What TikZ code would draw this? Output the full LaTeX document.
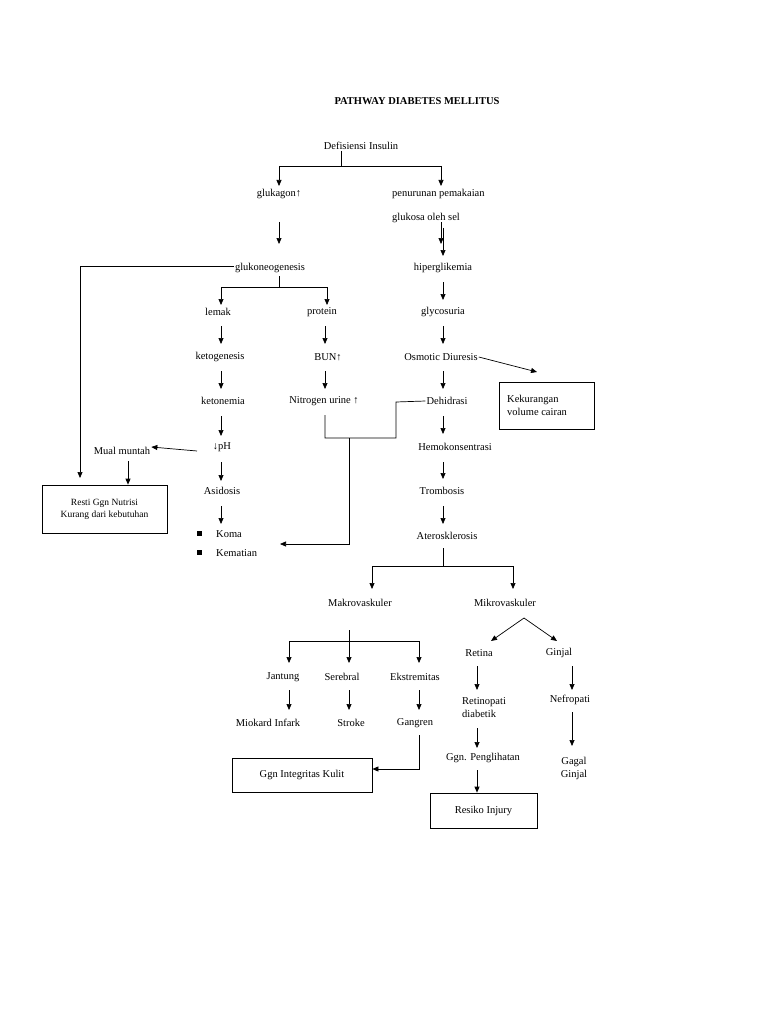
\documentclass[tikz,border=0pt]{standalone}
\usepackage{fontspec}
\setmainfont{Liberation Serif}
\usetikzlibrary{arrows.meta}
\begin{document}
\begin{tikzpicture}[x=1pt,y=-1pt,
  every node/.style={font=\fontsize{10.5}{13}\selectfont,inner sep=1pt},
  ar/.style={-{Triangle[length=6pt,width=5pt]},line width=0.7pt},
  ln/.style={line width=0.7pt},
  bx/.style={draw,line width=0.7pt,minimum width=0pt}]
\useasboundingbox (0,0) rectangle (768,1024);
\node[font=\fontsize{10.5}{13}\selectfont\bfseries] (title) at (417,101) {PATHWAY DIABETES MELLITUS};
\node (def) at (361,146) {Defisiensi Insulin};
\node (glk) at (279,194) {glukagon↑};
\node[anchor=west] (pen) at (391,194) {penurunan pemakaian};
\node[anchor=west] (glo) at (391,218) {glukosa oleh sel};
\node (gng) at (270,268) {glukoneogenesis};
\node (hip) at (443,268) {hiperglikemia};
\node (lem) at (218,312) {lemak};
\node (pro) at (322,312) {protein};
\node (gly) at (443,312) {glycosuria};
\node (ktg) at (220,357) {ketogenesis};
\node (bun) at (328,357) {BUN↑};
\node (osm) at (441,357) {Osmotic Diuresis};
\node (ktn) at (223,401) {ketonemia};
\node (nit) at (324,401) {Nitrogen urine ↑};
\node (deh) at (447,401) {Dehidrasi};
\node (ph) at (222,447) {↓pH};
\node (mual) at (122,451) {Mual muntah};
\node (hem) at (455,447) {Hemokonsentrasi};
\node (asi) at (222,491) {Asidosis};
\node (tro) at (442,491) {Trombosis};
\node[anchor=west] (koma) at (215,534) {Koma};
\node[anchor=west] (kem) at (215,553) {Kematian};
\fill (197,531) rectangle (202,536);
\fill (197,550) rectangle (202,555);
\node (ate) at (447,536) {Aterosklerosis};
\node[bx,minimum width=95pt,minimum height=47pt] (kek) at (546.5,405.5) {};
\node[anchor=west,align=left] (kekt) at (506,405) {Kekurangan\\volume cairan};
\node[bx,minimum width=125pt,minimum height=48pt,align=center,font=\fontsize{9.5}{12}\selectfont] (resti) at (104.5,509) {Resti Ggn Nutrisi\\Kurang dari kebutuhan};
\node (mak) at (360,603) {Makrovaskuler};
\node (mik) at (505,603) {Mikrovaskuler};
\node (jan) at (283,677) {Jantung};
\node (ser) at (342,677) {Serebral};
\node (eks) at (415,677) {Ekstremitas};
\node (mio) at (268,723) {Miokard Infark};
\node (str) at (351,723) {Stroke};
\node (gan) at (415,723) {Gangren};
\node[bx,minimum width=140pt,minimum height=34pt] (ggn) at (302,775) {Ggn Integritas Kulit};
\node (ret) at (479,653) {Retina};
\node (gin) at (559,653) {Ginjal};
\node[anchor=west,align=left] (rtp) at (461,708) {Retinopati\\diabetik};
\node (nef) at (570,700) {Nefropati};
\node (pen2) at (483,758) {Ggn. Penglihatan};
\node[align=center] (gag) at (574,768) {Gagal\\Ginjal};
\node[bx,minimum width=107pt,minimum height=35pt] (inj) at (483.5,810.5) {Resiko Injury};

% top split
\draw[ln] (def.south -| 341,0) -- (341,166);
\draw[ar] (279,166) -- (279,186);
\draw[ln] (279,166) -- (441,166);
\draw[ar] (441,166) -- (441,186);
\draw[ar] (279,222) -- (279,244);
\draw[ar] (441,222) -- (441,244);
% left long line
\draw[ar] (gng.west |- 0,266) -- (80,266) -- (80,478);
% gluconeogenesis split
\draw[ln] (279,276) -- (279,287);
\draw[ln] (221,287) -- (327,287);
\draw[ar] (221,287) -- (221,305);
\draw[ar] (327,287) -- (327,305);
% left column
\draw[ar] (221,326) -- (221,344);
\draw[ar] (221,371) -- (221,389);
\draw[ar] (221,416) -- (221,436);
\draw[ar] (221,462) -- (221,481);
\draw[ar] (221,506) -- (221,524);
\draw[ar] (197,451) -- (ph.west -| mual.east);
\draw[ar] (128,461) -- (resti.north -| 128,0);
% middle column
\draw[ar] (325,326) -- (325,344);
\draw[ar] (325,371) -- (325,389);
\draw[ln] (325,415) -- (325,438) -- (396,438) -- (396,402) -- (deh.west);
\draw[ar] (349,438) -- (349,544) -- (280,544);
% right column
\draw[ar] (443,228) -- (443,256);
\draw[ar] (443,282) -- (443,300);
\draw[ar] (443,326) -- (443,344);
\draw[ar] (osm.east) -- (537,372);
\draw[ar] (443,371) -- (443,389);
\draw[ar] (443,416) -- (443,434);
\draw[ar] (443,462) -- (443,479);
\draw[ar] (443,506) -- (443,524);
% bottom split
\draw[ln] (443,548) -- (443,566);
\draw[ln] (372,566) -- (513,566);
\draw[ar] (372,566) -- (372,589);
\draw[ar] (513,566) -- (513,589);
% makro
\draw[ln] (289,641) -- (419,641);
\draw[ar] (349,630) -- (349,663);
\draw[ar] (289,641) -- (289,663);
\draw[ar] (419,641) -- (419,663);
\draw[ar] (289,690) -- (289,710);
\draw[ar] (349,690) -- (349,710);
\draw[ar] (419,690) -- (419,710);
\draw[ar] (419,735) -- (419,769) -- (ggn.east |- 0,769);
% mikro
\draw[ar] (524,618) -- (491,641);
\draw[ar] (524,618) -- (557,641);
\draw[ar] (477,666) -- (477,690);
\draw[ar] (477,728) -- (477,748);
\draw[ar] (477,770) -- (inj.north -| 477,0);
\draw[ar] (572,666) -- (572,690);
\draw[ar] (572,712) -- (572,746);
\end{tikzpicture}
\end{document}
